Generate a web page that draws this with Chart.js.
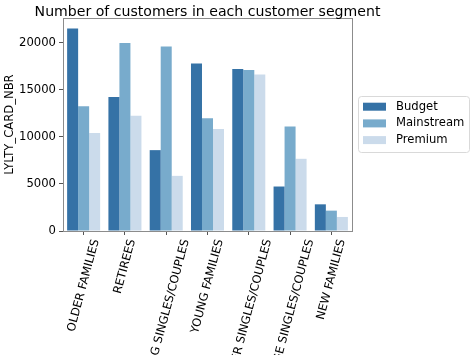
<!DOCTYPE html>
<html>
<head>
<meta charset="utf-8">
<script src="https://cdn.jsdelivr.net/npm/chart.js@4"></script>
<style>
  html, body { margin: 0; padding: 0; background: #ffffff; overflow: hidden; width: 474px; height: 355px; }
  #wrap { width: 474px; height: 430px; }
</style>
</head>
<body>
<div id="wrap"><canvas id="c" width="474" height="430"></canvas></div>
<script>
// ---- data ----
const categories = ['OLDER FAMILIES', 'RETIREES', 'YOUNG SINGLES/COUPLES', 'YOUNG FAMILIES',
                    'OLDER SINGLES/COUPLES', 'MIDAGE SINGLES/COUPLES', 'NEW FAMILIES'];
const seriesNames = ['Budget', 'Mainstream', 'Premium'];
const budget     = [21490, 14220, 8580, 17770, 17200, 4720, 2830];
const mainstream = [13230, 19960, 19570, 11950, 17090, 11100, 2160];
const premium    = [10390, 12230, 5850, 10810, 16600, 7660, 1490];
const yTicks = [0, 5000, 10000, 15000, 20000];
const titleText = 'Number of customers in each customer segment';
const yLabel = 'LYLTY_CARD_NBR';

const colors = ['#3572a6', '#78abcc', '#cbdbeb'];
const FONT = 'DejaVu Sans';
const FS = 11.6;

const seriesValues = [budget, mainstream, premium];

const decor = {
  id: 'decor',
  afterDraw(chart) {
    const ctx = chart.ctx;
    const a = chart.chartArea;
    const xs = chart.scales.x;
    ctx.save();
    // frame
    ctx.strokeStyle = '#8c8c8c';
    ctx.lineWidth = 1;
    ctx.strokeRect(Math.round(a.left) + 0.5, Math.round(a.top) + 0.5,
                   Math.round(a.right - a.left), Math.round(a.bottom - a.top));
    // title
    ctx.fillStyle = '#000';
    ctx.font = '14.1px "' + FONT + '"';
    ctx.textAlign = 'center';
    ctx.textBaseline = 'alphabetic';
    ctx.fillText(titleText, (a.left + a.right) / 2, 15.5);
    // x tick labels (rotated 75deg, bbox centered on tick like matplotlib)
    ctx.font = FS + 'px "' + FONT + '"';
    const ang = 75 * Math.PI / 180;
    const h = FS * 1.0;
    categories.forEach((lab, i) => {
      const x = xs.getPixelForValue(i);
      const w = ctx.measureText(lab).width;
      const H = w * Math.sin(ang) + h * Math.cos(ang);
      const top = a.bottom + 7;
      ctx.save();
      ctx.translate(x, top + H / 2);
      ctx.rotate(-ang);
      ctx.textAlign = 'center';
      ctx.textBaseline = 'middle';
      ctx.fillText(lab, 0, 0);
      ctx.restore();
    });
    // legend
    const lx = 358, ly = 96, lw = 111, lh = 56;
    ctx.strokeStyle = '#d9d9d9';
    ctx.fillStyle = 'rgba(255,255,255,0.8)';
    ctx.beginPath();
    ctx.roundRect(lx + 0.5, ly + 0.5, lw, lh, 3);
    ctx.fill();
    ctx.stroke();
    ctx.font = FS + 'px "' + FONT + '"';
    ctx.textAlign = 'left';
    ctx.textBaseline = 'middle';
    chart.data.datasets.forEach((ds, i) => {
      const cy = ly + 10.7 + i * 16.7;
      ctx.fillStyle = ds.backgroundColor;
      ctx.fillRect(lx + 5, cy - 4, 23, 8);
      ctx.fillStyle = '#000';
      ctx.fillText(ds.label, lx + 38, cy);
    });
    ctx.restore();
  }
};

new Chart(document.getElementById('c'), {
  type: 'bar',
  data: {
    labels: categories,
    datasets: seriesNames.map((n, i) => ({
      label: n,
      data: seriesValues[i],
      backgroundColor: colors[i],
      borderWidth: 0,
      categoryPercentage: 0.8,
      barPercentage: 1.0
    }))
  },
  options: {
    responsive: false,
    animation: false,
    devicePixelRatio: 1,
    layout: { padding: { top: 18, right: 122, left: 0, bottom: 0 } },
    plugins: { legend: { display: false }, title: { display: false }, tooltip: { enabled: false } },
    scales: {
      x: {
        offset: true,
        grid: { display: true, drawOnChartArea: false, drawTicks: true, tickLength: 4, color: '#555', offset: false },
        border: { display: true, color: '#8c8c8c' },
        ticks: { display: false },
        afterFit(s) { s.height = 430 - 231; }
      },
      y: {
        min: 0,
        max: 22600,
        afterBuildTicks(s) { s.ticks = yTicks.map(v => ({ value: v })); },
        grid: { display: true, drawOnChartArea: false, drawTicks: true, tickLength: 4, color: '#555' },
        border: { display: true, color: '#8c8c8c' },
        ticks: {
          color: '#000',
          font: { family: FONT, size: FS },
          padding: 3,
          callback: v => String(v)
        },
        title: {
          display: true,
          text: yLabel,
          color: '#000',
          font: { family: FONT, size: FS },
          padding: { top: 3.5, bottom: 0 }
        },
        afterFit(s) { s.width = 63; }
      }
    }
  },
  plugins: [decor]
});
</script>
</body>
</html>
